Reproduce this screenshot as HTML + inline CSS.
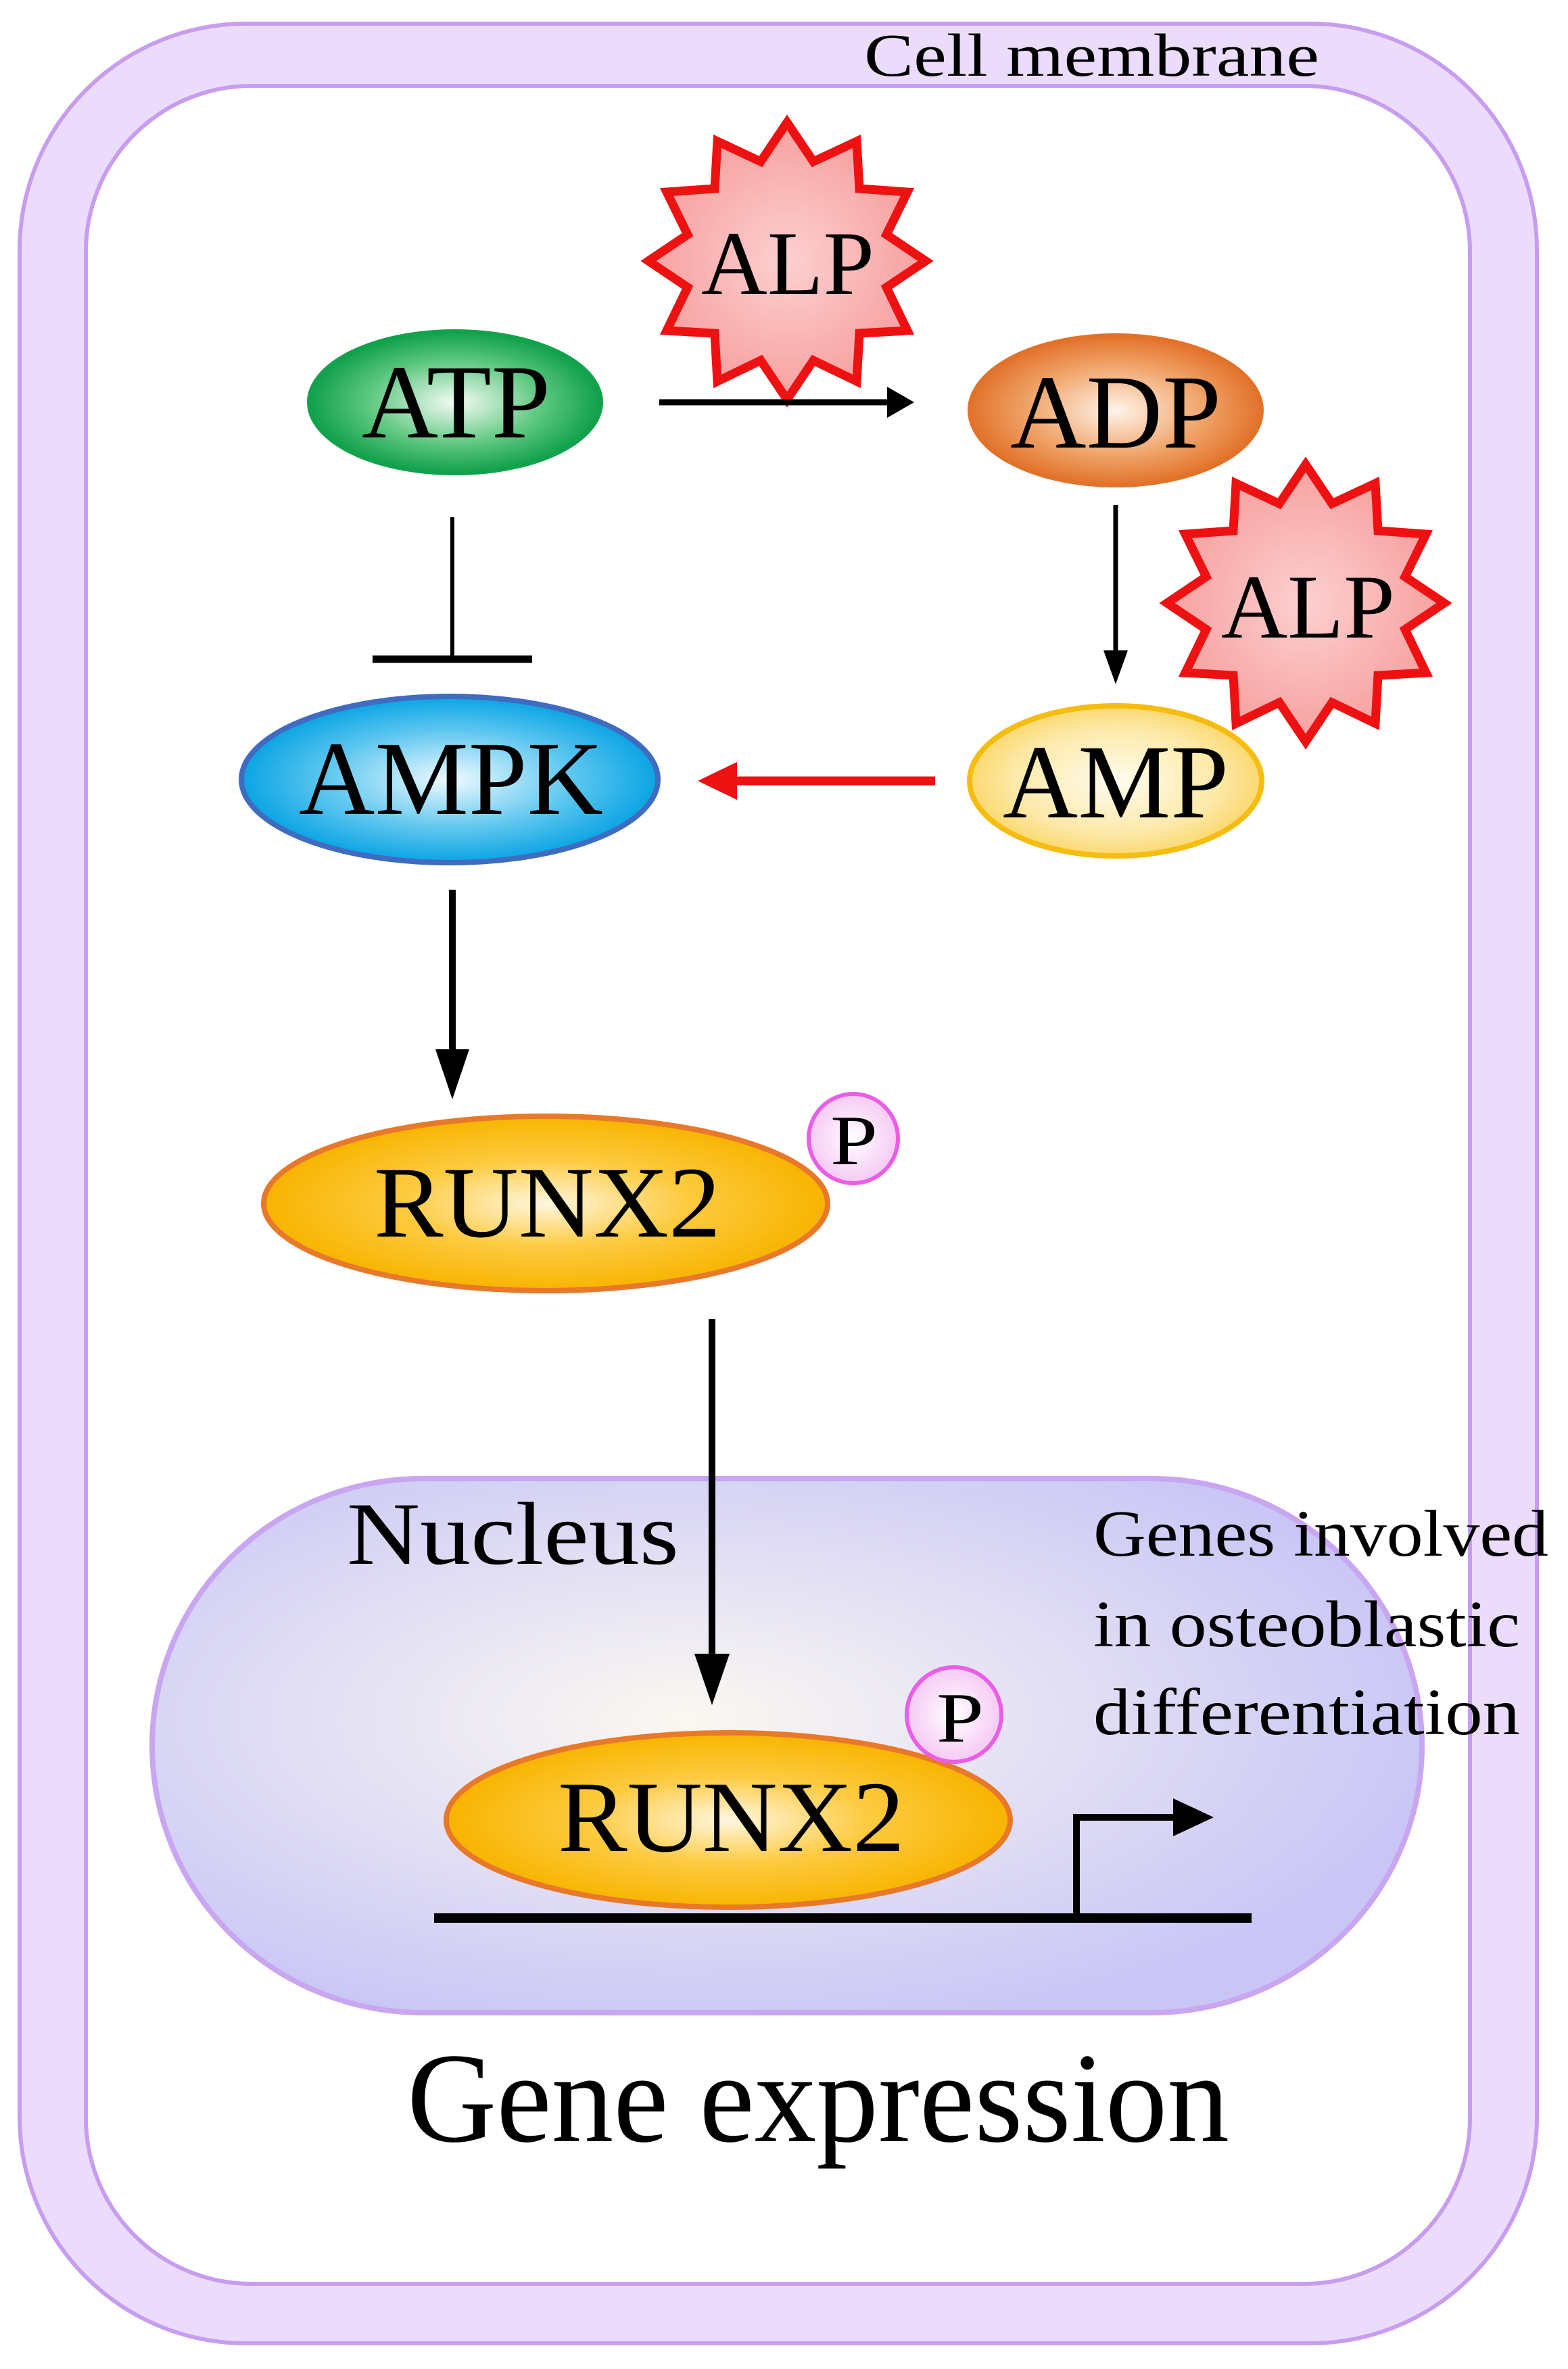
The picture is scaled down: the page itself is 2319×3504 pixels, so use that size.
<!DOCTYPE html>
<html><head><meta charset="utf-8"><style>html,body{margin:0;padding:0;background:#fff}svg{display:block}text{font-family:"Liberation Serif",serif;fill:#000}</style></head>
<body>
<svg width="2319" height="3504" viewBox="0 0 2319 3504" xmlns="http://www.w3.org/2000/svg">
<defs>
<radialGradient id="gG"><stop offset="0" stop-color="#f4fbf5"/><stop offset="0.6" stop-color="#5cc77f"/><stop offset="1" stop-color="#10a04a"/></radialGradient>
<radialGradient id="gO"><stop offset="0" stop-color="#fff4ea"/><stop offset="0.6" stop-color="#f0a46a"/><stop offset="1" stop-color="#e2722a"/></radialGradient>
<radialGradient id="gB"><stop offset="0" stop-color="#effaff"/><stop offset="0.6" stop-color="#5cc6ef"/><stop offset="1" stop-color="#0aa4e4"/></radialGradient>
<radialGradient id="gY"><stop offset="0" stop-color="#fffcf0"/><stop offset="0.7" stop-color="#fde9a8"/><stop offset="1" stop-color="#fbd970"/></radialGradient>
<radialGradient id="gR"><stop offset="0" stop-color="#fff6e0"/><stop offset="0.5" stop-color="#fdcb40"/><stop offset="1" stop-color="#f8b400"/></radialGradient>
<radialGradient id="gP"><stop offset="0" stop-color="#fff"/><stop offset="1" stop-color="#f6c9f4"/></radialGradient>
<radialGradient id="gS"><stop offset="0" stop-color="#fdd0d0"/><stop offset="1" stop-color="#f7a0a0"/></radialGradient>
<radialGradient id="gN" cx="0.42" cy="0.45" r="0.6"><stop offset="0" stop-color="#fbf8f2"/><stop offset="1" stop-color="#c9c6f6"/></radialGradient>
</defs>
<!-- membrane -->
<rect x="29" y="35" width="2244" height="3431" rx="335" fill="#ecdcfc" stroke="#c79df0" stroke-width="6"/>
<rect x="127" y="127" width="2047" height="3251" rx="245" fill="#fff" stroke="#c79df0" stroke-width="6"/>
<text x="1278" y="112" font-size="90" textLength="673" lengthAdjust="spacingAndGlyphs">Cell membrane</text>
<!-- nucleus -->
<rect x="225" y="2187" width="1878" height="790" rx="400" fill="url(#gN)" stroke="#c9a6f0" stroke-width="8"/>
<!-- stars -->
<g fill="url(#gS)" stroke="#ee1111" stroke-width="13" stroke-linejoin="miter">
<polygon points="1164,181 1203,239 1267,209 1271,279 1342,284 1311,347 1369,386 1311,425 1342,489 1271,493 1267,564 1203,533 1164,591 1125,533 1061,564 1057,493 986,489 1017,425 959,386 1017,347 986,284 1057,279 1061,209 1125,239"/>
<polygon points="1931,687 1970,745 2034,715 2038,785 2109,790 2078,853 2136,892 2078,931 2109,995 2038,999 2034,1070 1970,1039 1931,1097 1892,1039 1828,1070 1824,999 1753,995 1784,931 1726,892 1784,853 1753,790 1824,785 1828,715 1892,745"/>
</g>
<text x="1037" y="435" font-size="135" textLength="256" lengthAdjust="spacingAndGlyphs">ALP</text>
<text x="1806" y="943" font-size="135" textLength="257" lengthAdjust="spacingAndGlyphs">ALP</text>
<!-- nodes -->
<ellipse cx="673" cy="595" rx="216" ry="105" fill="url(#gG)" stroke="#12a24c" stroke-width="6"/>
<text x="535" y="647" font-size="156" textLength="279" lengthAdjust="spacingAndGlyphs">ATP</text>
<ellipse cx="1650" cy="607" rx="216" ry="111" fill="url(#gO)" stroke="#e2722a" stroke-width="6"/>
<text x="1494" y="662" font-size="156" textLength="312" lengthAdjust="spacingAndGlyphs">ADP</text>
<ellipse cx="665" cy="1153" rx="308" ry="123" fill="url(#gB)" stroke="#3f6cc0" stroke-width="8"/>
<text x="442" y="1204" font-size="156" textLength="450" lengthAdjust="spacingAndGlyphs">AMPK</text>
<ellipse cx="1650" cy="1155" rx="216" ry="111" fill="url(#gY)" stroke="#f5bd10" stroke-width="8"/>
<text x="1483" y="1209" font-size="156" textLength="334" lengthAdjust="spacingAndGlyphs">AMP</text>
<ellipse cx="807" cy="1780" rx="417" ry="129" fill="url(#gR)" stroke="#e8792a" stroke-width="8"/>
<text x="553" y="1829" font-size="150" textLength="513" lengthAdjust="spacingAndGlyphs">RUNX2</text>
<circle cx="1262" cy="1684" r="66" fill="url(#gP)" stroke="#ea5ee6" stroke-width="6"/>
<text x="1228" y="1722" font-size="105" textLength="70" lengthAdjust="spacingAndGlyphs">P</text>
<ellipse cx="1077" cy="2692" rx="417" ry="129" fill="url(#gR)" stroke="#e8792a" stroke-width="8"/>
<text x="825" y="2738" font-size="150" textLength="513" lengthAdjust="spacingAndGlyphs">RUNX2</text>
<circle cx="1411" cy="2536" r="70" fill="url(#gP)" stroke="#ea5ee6" stroke-width="6"/>
<text x="1385" y="2576" font-size="105" textLength="70" lengthAdjust="spacingAndGlyphs">P</text>
<!-- connectors -->
<g stroke="#000" fill="none">
<line x1="975" y1="595" x2="1320" y2="595" stroke-width="9"/>
<line x1="1650" y1="747" x2="1650" y2="975" stroke-width="7"/>
<line x1="669" y1="765" x2="669" y2="975" stroke-width="6"/>
<line x1="551" y1="975" x2="787" y2="975" stroke-width="11"/>
<line x1="669" y1="1316" x2="669" y2="1560" stroke-width="10"/>
<line x1="1053" y1="1951" x2="1053" y2="2460" stroke-width="10"/>
<line x1="642" y1="2837" x2="1851" y2="2837" stroke-width="14"/>
<polyline points="1592,2837 1592,2688 1740,2688" stroke-width="10"/>
</g>
<line x1="1383" y1="1155" x2="1080" y2="1155" stroke="#ee1111" stroke-width="13"/>
<g fill="#000">
<polygon points="1352,595 1312,572 1312,618"/>
<polygon points="1650,1012 1632,962 1668,962"/>
<polygon points="669,1626 644,1552 694,1552"/>
<polygon points="1053,2522 1027,2446 1079,2446"/>
<polygon points="1795,2688 1735,2660 1735,2716"/>
</g>
<polygon points="1032,1155 1090,1127 1090,1183" fill="#ee1111"/>
<!-- labels -->
<text x="513" y="2313" font-size="132" textLength="491" lengthAdjust="spacingAndGlyphs">Nucleus</text>
<text x="1617" y="2301" font-size="98" textLength="673" lengthAdjust="spacingAndGlyphs">Genes involved</text>
<text x="1617" y="2435" font-size="98" textLength="631" lengthAdjust="spacingAndGlyphs">in osteoblastic</text>
<text x="1617" y="2565" font-size="98" textLength="631" lengthAdjust="spacingAndGlyphs">differentiation</text>
<text x="602" y="3167" font-size="190" textLength="1216" lengthAdjust="spacingAndGlyphs">Gene expression</text>
</svg>
</body></html>
